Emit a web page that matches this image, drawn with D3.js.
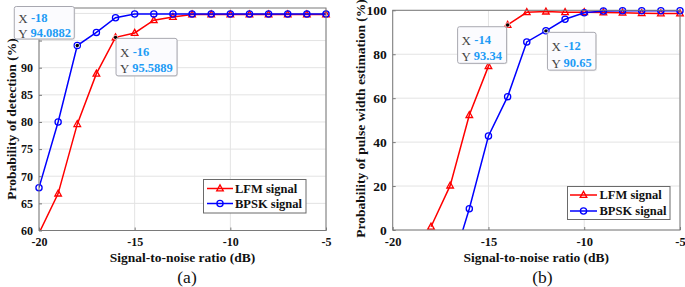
<!DOCTYPE html>
<html><head><meta charset="utf-8">
<script src="https://cdn.jsdelivr.net/npm/d3@7"></script>
<style>body{margin:0;background:#fff}svg{display:block}</style>
</head><body><svg id="c" width="685" height="287"></svg>
<script>
// ---------- data ----------
const snr = [-20,-19,-18,-17,-16,-15,-14,-13,-12,-11,-10,-9,-8,-7,-6,-5];
const lfmDetect  = [59.5,66.8,79.6,88.9,95.5889,96.4,98.75,99.35,99.8,99.8,99.8,99.8,99.8,99.8,99.8,99.8];
const bpskDetect = [67.9,80.0,94.0882,96.5,99.2,99.9,99.9,99.9,99.9,99.9,99.9,99.9,99.9,99.9,99.9,99.9];
const lfmPwe  = [null,null,1.5,20.2,52.3,74.6,93.34,99.1,99.4,99.1,99.1,99.0,98.9,98.7,98.6,98.6];
const bpskPwe = [null,null,null,-19,9.7,42.8,60.7,85.6,90.65,95.9,98.9,99.7,99.8,99.8,99.8,99.8];
const xTicks = [-20,-15,-10,-5];
const yTicksA = [60,65,70,75,80,85,90,95,100];
const yTickLabelsA = [60,65,70,75,80,85,90];
const yTicksB = [0,20,40,60,80,100];
const seriesNames = ["LFM signal","BPSK signal"];
const yTitles = ["Probability of detection (%)","Probability of pulse width estimation (%)"];
const xTitle = "Signal-to-noise ratio (dB)";
const panelTags = ["(a)","(b)"];
// data tips: [panel, series, snr]
const tips = [[0,1,-18],[0,0,-16],[1,0,-14],[1,1,-12]];

// ---------- layout ----------
const RED="#ff0000", BLUE="#0000ff";
const panels = [
  {x0:39, x1:326, yTop:8, yBot:230.5, ydom:[60,101], yTicks:yTicksA, yLabels:yTickLabelsA,
   series:[lfmDetect,bpskDetect], xTickFont:12, yTickFont:12, yTitleX:11, yTitleY:119, xTitleY:261.5, tagX:187, tagY:283,
   legend:{x:203.5,y:179.5,w:102.5,h:33.5,row0:188.5,dy:15,lx0:207,lx1:233,tx:235}},
  {x0:392.7, x1:680, yTop:10.3, yBot:230, ydom:[0,100], yTicks:yTicksB, yLabels:yTicksB,
   series:[lfmPwe,bpskPwe], xTickFont:12.5, yTickFont:13.5, yTitleX:360, yTitleY:118.5, xTitleY:261.5, tagX:542.5, tagY:283,
   legend:{x:567.5,y:186.5,w:102.5,h:33,row0:195,dy:16,lx0:570,lx1:597,tx:599.5}}
];
// tip box geometry relative to point: [dx, dy, w, h]
const tipBoxes = [[-63,-39,60,32.5],[0.5,1,61,37.5],[-50,1.8,49,36.6],[1.5,1.5,48.5,37.8]];

const svg = d3.select("#c");
const serif = "'Liberation Serif','Times New Roman',serif";
const colors=[RED,BLUE];

function triPath(cx,cy){return `M${cx},${cy-3.6}L${cx+3.3},${cy+2.4}L${cx-3.3},${cy+2.4}Z`;}
function marker(g,type,cx,cy,color){
  if(type===0) g.append("path").attr("d",triPath(cx,cy)).attr("fill","none").attr("stroke",color).attr("stroke-width",1.3);
  else g.append("circle").attr("cx",cx).attr("cy",cy).attr("r",3.1).attr("fill","none").attr("stroke",color).attr("stroke-width",1.3);
}

panels.forEach((p,pi)=>{
  const x = d3.scaleLinear().domain([-20,-5]).range([p.x0,p.x1]);
  const y = d3.scaleLinear().domain(p.ydom).range([p.yBot,p.yTop]);
  p.x=x; p.y=y;
  const g = svg.append("g");
  const cid="clip"+pi;
  svg.append("clipPath").attr("id",cid).append("rect")
    .attr("x",p.x0).attr("y",p.yTop).attr("width",p.x1-p.x0).attr("height",p.yBot-p.yTop);
  // grid
  g.selectAll(".gx").data(xTicks).enter().append("line")
    .attr("x1",d=>x(d)).attr("x2",d=>x(d)).attr("y1",p.yTop).attr("y2",p.yBot)
    .attr("stroke","#e3e3e3").attr("stroke-width",1);
  g.selectAll(".gy").data(p.yTicks).enter().append("line")
    .attr("y1",d=>y(d)).attr("y2",d=>y(d)).attr("x1",p.x0).attr("x2",p.x1)
    .attr("stroke","#e3e3e3").attr("stroke-width",1);
  // lines
  p.series.forEach((s,si)=>{
    const pts = snr.map((v,i)=>[v,s[i]]).filter(d=>d[1]!==null);
    g.append("path").attr("clip-path",`url(#${cid})`)
      .attr("d",d3.line().x(d=>x(d[0])).y(d=>y(d[1]))(pts))
      .attr("fill","none").attr("stroke",colors[si]).attr("stroke-width",1.5);
    pts.filter(d=>d[1]>=p.ydom[0]&&d[1]<=p.ydom[1]).forEach(d=>marker(g,si,x(d[0]),y(d[1]),colors[si]));
  });
  // axes box
  const ax = svg.append("g");
  ax.append("rect").attr("x",p.x0).attr("y",p.yTop).attr("width",p.x1-p.x0).attr("height",p.yBot-p.yTop)
    .attr("fill","none").attr("stroke","#7a7a7a").attr("stroke-width",1);
  const xa = d3.axisBottom(x).tickValues(xTicks).tickSizeInner(-3).tickSizeOuter(0).tickPadding(7)
    .tickFormat(d=>d3.format("d")(d));
  const xg = ax.append("g").attr("transform",`translate(0,${p.yBot})`).call(xa);
  const ya = d3.axisLeft(y).tickValues(p.yTicks).tickSizeInner(-3).tickSizeOuter(0).tickPadding(6)
    .tickFormat(d=>p.yLabels.includes(d)?d:"");
  const yg = ax.append("g").attr("transform",`translate(${p.x0},0)`).call(ya);
  [[xg,p.xTickFont],[yg,p.yTickFont]].forEach(([a,fs])=>{
    a.select(".domain").remove();
    a.selectAll("line").attr("stroke","#7a7a7a");
    a.selectAll("text").attr("font-family",serif).attr("font-weight","bold").attr("font-size",fs).attr("fill","#111");
  });
  xg.selectAll("text").text(d=>d<0?"-"+Math.abs(d):d);
  // titles
  svg.append("text").attr("x",(p.x0+p.x1)/2).attr("y",p.xTitleY).attr("text-anchor","middle")
    .attr("font-family",serif).attr("font-weight","bold").attr("font-size",13.5).attr("fill","#111").text(xTitle);
  svg.append("text").attr("transform",`translate(${p.yTitleX},${p.yTitleY}) rotate(-90)`)
    .attr("text-anchor","middle").attr("dominant-baseline","central")
    .attr("font-family",serif).attr("font-weight","bold").attr("font-size",13.5).attr("fill","#111").text(yTitles[pi]);
  svg.append("text").attr("x",p.tagX).attr("y",p.tagY).attr("text-anchor","middle")
    .attr("font-family",serif).attr("font-size",17.5).attr("fill","#111").text(panelTags[pi]);
  // legend
  const L=p.legend, lg=svg.append("g");
  lg.append("rect").attr("x",L.x).attr("y",L.y).attr("width",L.w).attr("height",L.h)
    .attr("fill","#fff").attr("stroke","#6a6a6a").attr("stroke-width",1);
  seriesNames.forEach((n,si)=>{
    const yy=L.row0+si*L.dy;
    lg.append("line").attr("x1",L.lx0).attr("x2",L.lx1).attr("y1",yy).attr("y2",yy).attr("stroke",colors[si]).attr("stroke-width",1.5);
    marker(lg,si,(L.lx0+L.lx1)/2,yy,colors[si]);
    lg.append("text").attr("x",L.tx).attr("y",yy).attr("dominant-baseline","central")
      .attr("font-family",serif).attr("font-weight","bold").attr("font-size",12.5).attr("fill","#111").text(n);
  });
});

// data tips
tips.forEach((t,ti)=>{
  const p=panels[t[0]], s=p.series[t[1]], i=snr.indexOf(t[2]);
  const v=s[i], px=p.x(t[2]), py=p.y(v);
  const [dx,dy,w,h]=tipBoxes[ti];
  const g=svg.append("g");
  g.append("circle").attr("cx",px).attr("cy",py).attr("r",2.6).attr("fill","#fff").attr("opacity",0.6);
  g.append("circle").attr("cx",px).attr("cy",py).attr("r",1.7).attr("fill","#000");
  const bx=px+dx, by=py+dy;
  g.append("rect").attr("x",bx+1).attr("y",by+1).attr("width",w).attr("height",h).attr("rx",2).attr("fill","#d8d8d8").attr("opacity",0.5);
  g.append("rect").attr("x",bx).attr("y",by).attr("width",w).attr("height",h).attr("rx",2)
    .attr("fill","#fbfbfe").attr("stroke","#a8a8b0").attr("stroke-width",1);
  [["X",t[2]],["Y",v]].forEach((r,ri)=>{
    const tx=g.append("text").attr("x",bx+4).attr("y",by+h*0.36+ri*h*0.44).attr("dominant-baseline","central")
      .attr("font-family",serif).attr("font-size",13);
    tx.append("tspan").attr("fill","#444").text(r[0]+" ");
    tx.append("tspan").attr("fill","#1e9bf5").attr("font-weight","bold").attr("font-size",12.5).text(String(r[1]));
  });
});
</script></body></html>
